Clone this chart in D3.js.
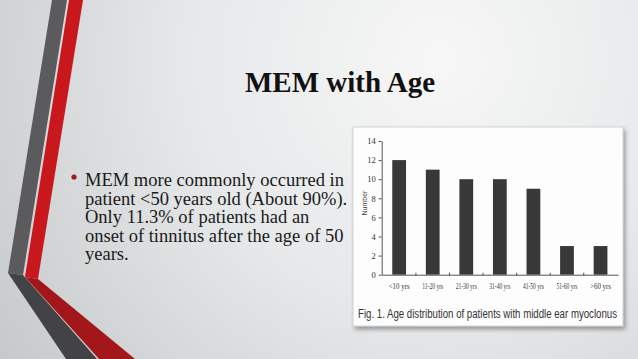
<!DOCTYPE html>
<html>
<head>
<meta charset="utf-8">
<script src="https://cdn.jsdelivr.net/npm/d3@7"></script>
<style>
    body { margin: 0; padding: 0; overflow: hidden; }
    svg { display: block; }
</style>
</head>
<body>
<div id="slide"></div>
<script>
const ageGroups = ["<10 yrs", "11-20 yrs", "21-30 yrs", "31-40 yrs", "41-50 yrs", "51-60 yrs", ">60 yrs"];
const patientCounts = [12, 11, 10, 10, 9, 3, 3];
const yTicks = [0, 2, 4, 6, 8, 10, 12, 14];

const slideTitle = "MEM with Age";
const bulletLines = [
    "MEM more commonly occurred in",
    "patient <50 years old (About 90%).",
    "Only 11.3% of patients had an",
    "onset of tinnitus after the age of 50",
    "years."
];
const caption = "Fig. 1. Age distribution of patients with middle ear myoclonus";

const W = 638, H = 359;

function drawSlide() {
    const svg = d3.select("#slide")
        .append("svg")
        .attr("width", W)
        .attr("height", H);

    const defs = svg.append("defs");
    const bg = defs.append("radialGradient")
        .attr("id", "bg")
        .attr("gradientUnits", "userSpaceOnUse")
        .attr("cx", 440).attr("cy", 60).attr("r", 560);
    bg.append("stop").attr("offset", 0).attr("stop-color", "#f7f7f7");
    bg.append("stop").attr("offset", 0.45).attr("stop-color", "#e6e8e9");
    bg.append("stop").attr("offset", 1).attr("stop-color", "#c3c6c8");

    const shadow = defs.append("filter").attr("id", "shadow")
        .attr("x", "-10%").attr("y", "-10%").attr("width", "125%").attr("height", "125%");
    shadow.append("feDropShadow")
        .attr("dx", 2).attr("dy", 3).attr("stdDeviation", 2)
        .attr("flood-color", "#000").attr("flood-opacity", 0.35);

    svg.append("rect")
        .attr("width", W).attr("height", H)
        .attr("fill", "url(#bg)");

    // decorative stripes on the left
    const stripes = [
        { pts: [[52, 0], [67, 0], [23, 275], [8, 273]], fill: "#5b5b5d" },
        { pts: [[8, 273], [23, 275], [97, 359], [66, 359]], fill: "#434345" },
        { pts: [[69, 0], [83, 0], [38, 279], [25, 277]], fill: "#c8171d" },
        { pts: [[25, 277], [38, 279], [135, 359], [99, 359]], fill: "#a3161a" }
    ];
    svg.selectAll(".stripe")
        .data(stripes)
        .enter()
        .append("polygon")
        .attr("class", "stripe")
        .attr("points", d => d.pts.map(p => p.join(",")).join(" "))
        .attr("fill", d => d.fill);

    svg.append("text")
        .attr("x", 340)
        .attr("y", 92)
        .attr("text-anchor", "middle")
        .style("font-family", "'Liberation Serif', 'Times New Roman', serif")
        .style("font-weight", "bold")
        .style("font-size", "29px")
        .style("fill", "#111")
        .text(slideTitle);

    svg.append("circle")
        .attr("cx", 74).attr("cy", 177).attr("r", 2.6)
        .attr("fill", "#a01a1e");

    svg.selectAll(".bullet-line")
        .data(bulletLines)
        .enter()
        .append("text")
        .attr("class", "bullet-line")
        .attr("x", 85)
        .attr("y", (d, i) => 186 + i * 18.5)
        .style("font-family", "'Liberation Serif', 'Times New Roman', serif")
        .style("font-size", "18.5px")
        .style("fill", "#1a1a1a")
        .text(d => d);

    // the figure box
    svg.append("rect")
        .attr("x", 353).attr("y", 127)
        .attr("width", 270).attr("height", 199)
        .attr("fill", "#fdfdfd")
        .attr("stroke", "#c8c8c8")
        .attr("stroke-width", 0.8)
        .attr("filter", "url(#shadow)");

    const x = d3.scaleBand()
        .domain(ageGroups)
        .range([381.7, 618])
        .paddingInner(0.59)
        .paddingOuter(0.315);

    const y = d3.scaleLinear()
        .domain([0, 14])
        .range([274.7, 141]);

    const data = ageGroups.map((g, i) => ({ group: g, value: patientCounts[i] }));

    svg.selectAll(".bar")
        .data(data)
        .enter()
        .append("rect")
        .attr("class", "bar")
        .attr("x", d => x(d.group))
        .attr("y", d => y(d.value))
        .attr("width", x.bandwidth())
        .attr("height", d => y(0) - y(d.value))
        .attr("fill", "#383838");

    const xAxis = svg.append("g")
        .attr("transform", `translate(0,${y(0)})`)
        .call(d3.axisBottom(x).tickSize(0).tickSizeOuter(0).tickPadding(8));
    xAxis.select(".domain").attr("stroke", "#555").attr("stroke-width", 1);
    xAxis.selectAll("text")
        .style("font-family", "'Liberation Serif', 'Times New Roman', serif")
        .style("font-size", "9px")
        .style("fill", "#333")
        .attr("textLength", 21)
        .attr("lengthAdjust", "spacingAndGlyphs");

    // small ticks between the bars
    const between = ageGroups.slice(0, -1).map(g => x(g) + x.bandwidth() / 2 + x.step() / 2);
    svg.selectAll(".xtick")
        .data(between)
        .enter()
        .append("line")
        .attr("class", "xtick")
        .attr("x1", d => d).attr("x2", d => d)
        .attr("y1", y(0) - 2).attr("y2", y(0) + 1)
        .attr("stroke", "#555");

    const yAxis = svg.append("g")
        .attr("transform", "translate(381.7,0)")
        .call(d3.axisLeft(y).tickValues(yTicks).tickSize(3).tickSizeOuter(0).tickPadding(3));
    yAxis.selectAll("path, line").attr("stroke", "#555");
    yAxis.selectAll("text")
        .style("font-family", "'Liberation Serif', 'Times New Roman', serif")
        .style("font-size", "8.5px")
        .style("fill", "#333");

    svg.append("text")
        .attr("transform", "translate(367,203) rotate(-90)")
        .attr("text-anchor", "middle")
        .style("font-family", "'Liberation Sans', Arial, sans-serif")
        .style("font-size", "7px")
        .style("fill", "#444")
        .text("Number");

    // caption: narrow glyphs, stretched vertically like the scanned figure
    svg.append("text")
        .attr("transform", "translate(358,318) scale(1,1.35)")
        .attr("textLength", 259)
        .attr("lengthAdjust", "spacingAndGlyphs")
        .style("font-family", "'Liberation Sans', Arial, sans-serif")
        .style("font-size", "9.2px")
        .style("fill", "#333")
        .text(caption);
}

document.addEventListener("DOMContentLoaded", drawSlide);
</script>
</body>
</html>
